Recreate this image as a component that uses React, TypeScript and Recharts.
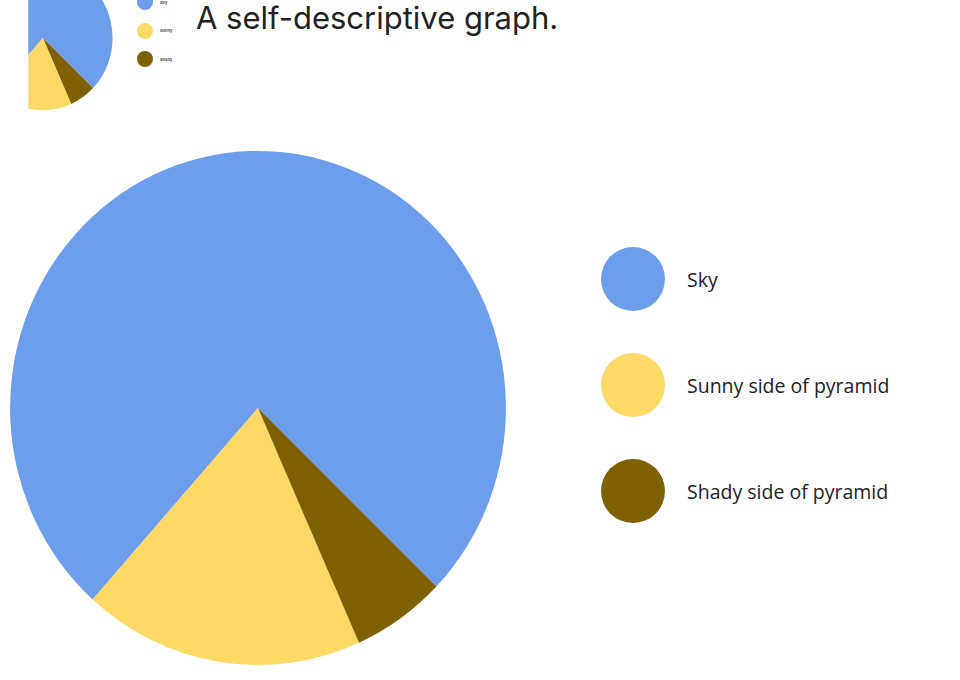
import React from 'react';
import { PieChart, Pie, Cell } from 'recharts';

const categories = ['Sky', 'Sunny side of pyramid', 'Shady side of pyramid'];
const shortNames = ['Sky', 'Sunny', 'Shady'];
const shares = [75.6, 18.3, 6.1];
const colors = ['#6d9eeb', '#ffd966', '#7f6000'];

const pieData = categories.map((name, i) => ({ name, value: shares[i] }));

// sky starts at lower right, sweeps over the top and ends at the left foot of the pyramid
const START_ANGLE = -44;
const noMargin = { top: 0, right: 0, bottom: 0, left: 0 };
// the source picture is a little squashed sideways
const squash = 'scale(0.98, 1.016)';

export default function App() {
  return (
    <div
      style={{
        position: 'absolute',
        left: 0,
        top: 0,
        width: 960,
        height: 680,
        background: '#fff',
        overflow: 'hidden',
        fontFamily: 'Inter, sans-serif',
      }}
    >
      {/* thumbnail in the corner */}
      <div style={{ position: 'absolute', left: 28, top: 0, width: 110, height: 120, overflow: 'hidden' }}>
        <div style={{ transform: squash, transformOrigin: '15px 38px' }}>
          <PieChart width={110} height={120} margin={noMargin}>
            <Pie
              data={pieData}
              dataKey="value"
              cx={15}
              cy={38}
              outerRadius={71}
              startAngle={START_ANGLE}
              endAngle={START_ANGLE + 360}
              stroke="none"
              isAnimationActive={false}
            >
              {pieData.map((entry, index) => (
                <Cell key={`thumb-${index}`} fill={colors[index]} />
              ))}
            </Pie>
          </PieChart>
        </div>
      </div>
      {shortNames.map((name, i) => (
        <div key={name} style={{ position: 'absolute', left: 137, top: 2 + i * 28.5 - 8, height: 16, display: 'flex', alignItems: 'center' }}>
          <div style={{ width: 16, height: 16, borderRadius: 8, background: colors[i] }} />
          <span style={{ marginLeft: 7, fontSize: 4, color: '#555', fontWeight: 700 }}>{name}</span>
        </div>
      ))}

      <div
        style={{
          position: 'absolute',
          left: 196,
          top: 3,
          fontSize: 31,
          lineHeight: '30px',
          color: '#222',
          whiteSpace: 'nowrap',
        }}
      >
        A self-descriptive graph.
      </div>

      {/* main chart */}
      <div style={{ position: 'absolute', left: 0, top: 0, transform: squash, transformOrigin: '258px 408px' }}>
        <PieChart width={540} height={680} margin={noMargin}>
          <Pie
            data={pieData}
            dataKey="value"
            cx={258}
            cy={408}
            outerRadius={253}
            startAngle={START_ANGLE}
            endAngle={START_ANGLE + 360}
            stroke="none"
            isAnimationActive={false}
          >
            {pieData.map((entry, index) => (
              <Cell key={`cell-${index}`} fill={colors[index]} />
            ))}
          </Pie>
        </PieChart>
      </div>

      {categories.map((name, i) => (
        <div
          key={name}
          style={{
            position: 'absolute',
            left: 601,
            top: 279 + i * 106 - 32,
            height: 64,
            display: 'flex',
            alignItems: 'center',
          }}
        >
          <div style={{ width: 64, height: 64, borderRadius: 32, background: colors[i] }} />
          <span style={{ marginLeft: 22, fontSize: 19.5, color: '#222', fontFamily: '"Open Sans", sans-serif' }}>{name}</span>
        </div>
      ))}
    </div>
  );
}
